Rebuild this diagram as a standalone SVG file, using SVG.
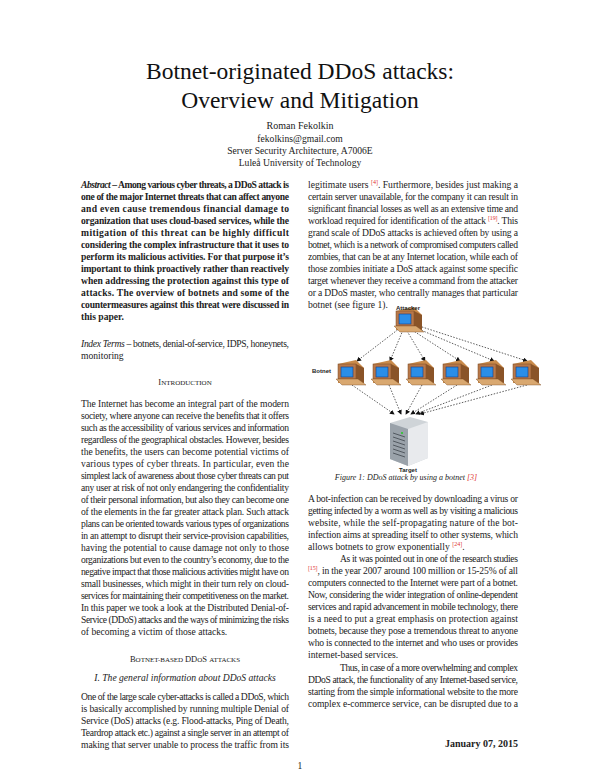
<svg xmlns="http://www.w3.org/2000/svg" width="600" height="776" viewBox="0 0 600 776">
<style>
text{font-family:"Liberation Serif","Times New Roman",serif;font-size:9.6px;fill:#222}
.b{font-weight:bold}
.r{fill:#e03030;font-size:6px}
.t{font-size:23.5px;text-anchor:middle;fill:#111}
.c{text-anchor:middle}
.i{font-style:italic}
.f{font-family:"Liberation Sans",Arial,sans-serif;font-size:6px;font-weight:bold}
.cn line{stroke:#333;stroke-width:0.8;stroke-dasharray:1.5,1.5}
</style>
<defs>
<marker id="ar" markerWidth="6" markerHeight="6" refX="5" refY="3" orient="auto"><path d="M0,0L6,3L0,6z" fill="#111"/></marker>
<g id="pc">
<path d="M-12,-9 L6,-13 L14,-5 L14,10 L-12,10z" fill="#c98a4a"/>
<rect x="-12" y="-9" width="18" height="15" fill="#b8784a" stroke="#7a4a20" stroke-width="0.5"/>
<rect x="-9" y="-6" width="12" height="10" fill="#2a8ee8" stroke="#1a3c80" stroke-width="0.6"/>
<path d="M6,-9 L14,-5 L14,10 L6,6z" fill="#8a5428"/>
<path d="M-14,6 L8,6 L16,12 L-8,12z" fill="#d9a870" stroke="#7a4a20" stroke-width="0.4"/>
</g>
</defs>
<rect width="600" height="776" fill="#fff"/>
<text class="t" x="300" y="79">Botnet-originated DDoS attacks:</text>
<text class="t" x="300" y="108">Overview and Mitigation</text>
<text class="c" x="300" y="129" style="font-size:10px">Roman Fekolkin</text>
<text class="c" x="300" y="142">fekolkins@gmail.com</text>
<text class="c" x="300" y="154">Server Security Architecture, A7006E</text>
<text class="c" x="300" y="166">Luleå University of Technology</text>

<g id="abstract">
<text class="b" x="81" y="188" textLength="208" lengthAdjust="spacing"><tspan class="i">Abstract</tspan> – Among various cyber threats, a DDoS attack is</text>
<text class="b" x="81" y="200" textLength="208" lengthAdjust="spacing">one of the major Internet threats that can affect anyone</text>
<text class="b" x="81" y="212" textLength="208" lengthAdjust="spacing">and even cause tremendous financial damage to</text>
<text class="b" x="81" y="224" textLength="208" lengthAdjust="spacing">organization that uses cloud-based services, while the</text>
<text class="b" x="81" y="236" textLength="208" lengthAdjust="spacing">mitigation of this threat can be highly difficult</text>
<text class="b" x="81" y="248" textLength="208" lengthAdjust="spacing">considering the complex infrastructure that it uses to</text>
<text class="b" x="81" y="260" textLength="208" lengthAdjust="spacing">perform its malicious activities. For that purpose it’s</text>
<text class="b" x="81" y="272" textLength="208" lengthAdjust="spacing">important to think proactively rather than reactively</text>
<text class="b" x="81" y="284" textLength="208" lengthAdjust="spacing">when addressing the protection against this type of</text>
<text class="b" x="81" y="296" textLength="208" lengthAdjust="spacing">attacks. The overview of botnets and some of the</text>
<text class="b" x="81" y="308" textLength="208" lengthAdjust="spacing">countermeasures against this threat were discussed in</text>
<text class="b" x="81" y="320">this paper.</text>
<text x="81" y="347" textLength="208" lengthAdjust="spacing"><tspan class="i">Index Terms</tspan> – botnets, denial-of-service, IDPS, honeynets,</text>
<text x="81" y="359">monitoring</text>
<text class="c" x="185" y="385" style="font-size:8.5px">I<tspan style="font-size:7px">NTRODUCTION</tspan></text>
</g>

<g id="intro">
<text x="81" y="407" textLength="208" lengthAdjust="spacing">The Internet has become an integral part of the modern</text>
<text x="81" y="419" textLength="208" lengthAdjust="spacing">society, where anyone can receive the benefits that it offers</text>
<text x="81" y="431" textLength="208" lengthAdjust="spacing">such as the accessibility of various services and information</text>
<text x="81" y="443" textLength="208" lengthAdjust="spacing">regardless of the geographical obstacles. However, besides</text>
<text x="81" y="455" textLength="208" lengthAdjust="spacing">the benefits, the users can become potential victims of</text>
<text x="81" y="467" textLength="208" lengthAdjust="spacing">various types of cyber threats. In particular, even the</text>
<text x="81" y="479" textLength="208" lengthAdjust="spacing">simplest lack of awareness about those cyber threats can put</text>
<text x="81" y="491" textLength="208" lengthAdjust="spacing">any user at risk of not only endangering the confidentiality</text>
<text x="81" y="503" textLength="208" lengthAdjust="spacing">of their personal information, but also they can become one</text>
<text x="81" y="515" textLength="208" lengthAdjust="spacing">of the elements in the far greater attack plan. Such attack</text>
<text x="81" y="527" textLength="208" lengthAdjust="spacing">plans can be oriented towards various types of organizations</text>
<text x="81" y="539" textLength="208" lengthAdjust="spacing">in an attempt to disrupt their service-provision capabilities,</text>
<text x="81" y="551" textLength="208" lengthAdjust="spacing">having the potential to cause damage not only to those</text>
<text x="81" y="563" textLength="208" lengthAdjust="spacing">organizations but even to the country’s economy, due to the</text>
<text x="81" y="575" textLength="208" lengthAdjust="spacing">negative impact that those malicious activities might have on</text>
<text x="81" y="587" textLength="208" lengthAdjust="spacing">small businesses, which might in their turn rely on cloud-</text>
<text x="81" y="599" textLength="208" lengthAdjust="spacing">services for maintaining their competitiveness on the market.</text>
<text x="81" y="611" textLength="208" lengthAdjust="spacing">In this paper we took a look at the Distributed Denial-of-</text>
<text x="81" y="623" textLength="208" lengthAdjust="spacing">Service (DDoS) attacks and the ways of minimizing the risks</text>
<text x="81" y="635">of becoming a victim of those attacks.</text>
<text class="c" x="185" y="662" style="font-size:8.5px">B<tspan style="font-size:7px">OTNET-BASED </tspan>DD<tspan style="font-size:7px">O</tspan>S <tspan style="font-size:7px">ATTACKS</tspan></text>
<text class="c i" x="185" y="681">I. The general information about DDoS attacks</text>
<text x="81" y="700" textLength="208" lengthAdjust="spacing">One of the large scale cyber-attacks is called a DDoS, which</text>
<text x="81" y="712" textLength="208" lengthAdjust="spacing">is basically accomplished by running multiple Denial of</text>
<text x="81" y="724" textLength="208" lengthAdjust="spacing">Service (DoS) attacks (e.g. Flood-attacks, Ping of Death,</text>
<text x="81" y="736" textLength="208" lengthAdjust="spacing">Teardrop attack etc.) against a single server in an attempt of</text>
<text x="81" y="748" textLength="208" lengthAdjust="spacing">making that server unable to process the traffic from its</text>
</g>

<g id="right-top">
<text x="308" y="188" textLength="210" lengthAdjust="spacing">legitimate users <tspan class="r" dy="-4">[4]</tspan><tspan dy="4">. Furthermore, besides just making a</tspan></text>
<text x="308" y="200" textLength="210" lengthAdjust="spacing">certain server unavailable, for the company it can result in</text>
<text x="308" y="212" textLength="210" lengthAdjust="spacing">significant financial losses as well as an extensive time and</text>
<text x="308" y="224" textLength="210" lengthAdjust="spacing">workload required for identification of the attack <tspan class="r" dy="-4">[19]</tspan><tspan dy="4">. This</tspan></text>
<text x="308" y="236" textLength="210" lengthAdjust="spacing">grand scale of DDoS attacks is achieved often by using a</text>
<text x="308" y="248" textLength="210" lengthAdjust="spacing">botnet, which is a network of compromised computers called</text>
<text x="308" y="260" textLength="210" lengthAdjust="spacing">zombies, that can be at any Internet location, while each of</text>
<text x="308" y="272" textLength="210" lengthAdjust="spacing">those zombies initiate a DoS attack against some specific</text>
<text x="308" y="284" textLength="210" lengthAdjust="spacing">target whenever they receive a command from the attacker</text>
<text x="308" y="296" textLength="210" lengthAdjust="spacing">or a DDoS master, who centrally manages that particular</text>
<text x="308" y="308">botnet (see figure 1).</text>
</g>

<g class="cn" id="connectors">
<line x1="400" y1="328" x2="357" y2="361" marker-end="url(#ar)"/>
<line x1="403" y1="330" x2="390" y2="361" marker-end="url(#ar)"/>
<line x1="407" y1="331" x2="425" y2="361" marker-end="url(#ar)"/>
<line x1="412" y1="330" x2="460" y2="361" marker-end="url(#ar)"/>
<line x1="416" y1="328" x2="494" y2="361" marker-end="url(#ar)"/>
<line x1="419" y1="326" x2="527" y2="361" marker-end="url(#ar)"/>
<line x1="352" y1="385" x2="394" y2="414" marker-end="url(#ar)"/>
<line x1="389" y1="385" x2="401" y2="414" marker-end="url(#ar)"/>
<line x1="422" y1="385" x2="406" y2="414" marker-end="url(#ar)"/>
<line x1="457" y1="385" x2="411" y2="414" marker-end="url(#ar)"/>
<line x1="492" y1="385" x2="416" y2="414" marker-end="url(#ar)"/>
<line x1="527" y1="385" x2="420" y2="414" marker-end="url(#ar)"/>
</g>
<g id="attacker"><use href="#pc" x="408" y="320"/><text class="f" x="408" y="310" text-anchor="middle">Attacker</text></g>
<g id="botnet-label"><text class="f" x="312" y="373">Botnet</text></g>
<g id="bot1"><use href="#pc" x="350" y="373"/></g>
<g id="bot2"><use href="#pc" x="385" y="373"/></g>
<g id="bot3"><use href="#pc" x="420" y="373"/></g>
<g id="bot4"><use href="#pc" x="455" y="373"/></g>
<g id="bot5"><use href="#pc" x="490" y="373"/></g>
<g id="bot6"><use href="#pc" x="525" y="373"/></g>
<g id="target">
<path d="M390,423 L410,417 L428,422 L428,458 L408,466 L390,459z" fill="#cfd4d8"/>
<path d="M390,423 L408,429 L408,466 L390,459z" fill="#9aa2aa"/>
<path d="M408,429 L428,422 L428,458 L408,466z" fill="#e8eaed"/>
<path d="M393,433 L405,437 M393,437 L405,441 M393,441 L405,445 M393,445 L405,449 M393,449 L405,453 M393,453 L405,457" stroke="#4a5058" stroke-width="0.9"/>
<circle cx="402" cy="433" r="1" fill="#2c2"/>
<text class="f" x="408" y="472" text-anchor="middle">Target</text>
</g>
<text class="c i" x="406" y="480" style="font-size:8px">Figure 1: DDoS attack by using a botnet <tspan fill="#e03030">[3]</tspan></text>

<g id="right-bottom">
<text x="308" y="502" textLength="210" lengthAdjust="spacing">A bot-infection can be received by downloading a virus or</text>
<text x="308" y="514" textLength="210" lengthAdjust="spacing">getting infected by a worm as well as by visiting a malicious</text>
<text x="308" y="526" textLength="210" lengthAdjust="spacing">website, while the self-propagating nature of the bot-</text>
<text x="308" y="538" textLength="210" lengthAdjust="spacing">infection aims at spreading itself to other systems, which</text>
<text x="308" y="550">allows botnets to grow exponentially <tspan class="r" dy="-4">[24]</tspan><tspan dy="4">.</tspan></text>
<text x="340" y="562" textLength="178" lengthAdjust="spacing">As it was pointed out in one of the research studies</text>
<text x="308" y="574" textLength="210" lengthAdjust="spacing"><tspan class="r" dy="-4">[15]</tspan><tspan dy="4">, in the year 2007 around 100 million or 15-25% of all</tspan></text>
<text x="308" y="586" textLength="210" lengthAdjust="spacing">computers connected to the Internet were part of a botnet.</text>
<text x="308" y="598" textLength="210" lengthAdjust="spacing">Now, considering the wider integration of online-dependent</text>
<text x="308" y="610" textLength="210" lengthAdjust="spacing">services and rapid advancement in mobile technology, there</text>
<text x="308" y="622" textLength="210" lengthAdjust="spacing">is a need to put a great emphasis on protection against</text>
<text x="308" y="634" textLength="210" lengthAdjust="spacing">botnets, because they pose a tremendous threat to anyone</text>
<text x="308" y="646" textLength="210" lengthAdjust="spacing">who is connected to the internet and who uses or provides</text>
<text x="308" y="658">internet-based services.</text>
<text x="340" y="671" textLength="178" lengthAdjust="spacing">Thus, in case of a more overwhelming and complex</text>
<text x="308" y="683" textLength="210" lengthAdjust="spacing">DDoS attack, the functionality of any Internet-based service,</text>
<text x="308" y="695" textLength="210" lengthAdjust="spacing">starting from the simple informational website to the more</text>
<text x="308" y="707" textLength="210" lengthAdjust="spacing">complex e-commerce service, can be disrupted due to a</text>
</g>
<text class="b" x="518" y="747" text-anchor="end" style="font-size:10px">January 07, 2015</text>
<text class="c" x="300" y="769">1</text>
</svg>
